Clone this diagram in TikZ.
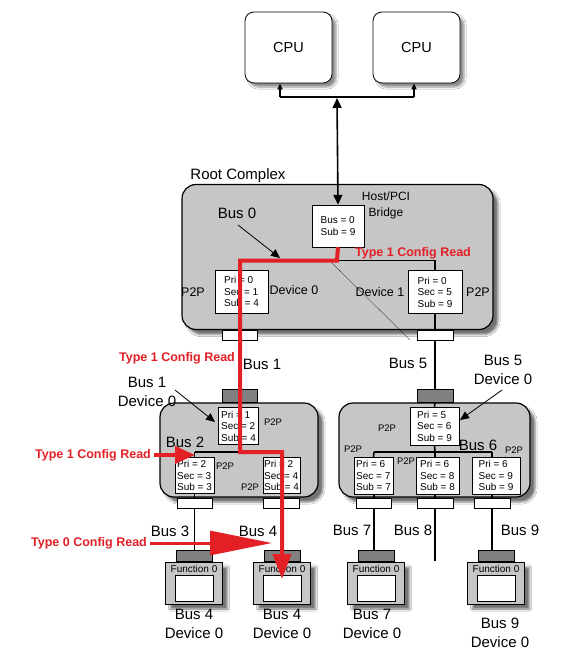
\documentclass[tikz,border=0pt]{standalone}
\usepackage{fontspec}
\setmainfont{Liberation Sans}
\usetikzlibrary{shadows.blur,arrows.meta}
\definecolor{hubgray}{RGB}{198,198,198}
\definecolor{portgray}{RGB}{128,128,128}
\definecolor{cfgred}{RGB}{226,32,38}

\begin{document}
\begin{tikzpicture}[x=1pt,y=-1pt,
    cpubox/.style={draw, thick, fill=white, rounded corners=9pt, inner sep=0pt,
      minimum width=87pt, minimum height=71pt, font=\fontsize{14.5}{16}\selectfont,
      blur shadow={shadow xshift=4pt, shadow yshift=-4pt, shadow opacity=45}},
    hub/.style={draw, line width=1.2pt, fill=hubgray, rounded corners=14pt, inner sep=0pt,
      blur shadow={shadow xshift=5pt, shadow yshift=-5pt, shadow opacity=55}},
    reg/.style={draw, fill=white, inner sep=0pt, align=left, font=\fontsize{10}{11.5}\selectfont},
    upport/.style={draw, fill=portgray, inner sep=0pt, minimum height=13pt},
    dnport/.style={draw, fill=white, inner sep=0pt, minimum height=10pt},
    fnbox/.style={draw, thick, fill=hubgray, inner sep=0pt, minimum width=57pt, minimum height=42pt,
      blur shadow={shadow xshift=5pt, shadow yshift=-5pt, shadow opacity=55}},
    fnport/.style={draw, fill=portgray, inner sep=0pt, minimum width=36pt, minimum height=11pt},
    fnwin/.style={draw, fill=white, inner sep=0pt, minimum width=38pt, minimum height=26pt},
    biglbl/.style={font=\fontsize{15}{19}\selectfont, align=center},
    midlbl/.style={font=\fontsize{12.5}{16}\selectfont, align=center},
    smalllbl/.style={font=\fontsize{9.5}{11}\selectfont},
    redlbl/.style={text=cfgred, font=\bfseries\fontsize{12.5}{14}\selectfont},
    bus/.style={line width=1.6pt},
    redpath/.style={draw=cfgred, line width=4pt, line join=miter}
  ]
  \fill[white] (0,0) rectangle (581,658);
  \useasboundingbox (0,0) rectangle (581,658);

  % CPUs and host bus
  \node (cpuA) [cpubox] at (288.5,47.5) {CPU};
  \node (cpuB) [cpubox] at (416.5,47.5) {CPU};
  \coordinate (hbusL) at (280,97);
  \coordinate (hbusR) at (414,97);
  \coordinate (hbusM) at (337,98);
  \draw[bus] (hbusL) -- (hbusR);
  \draw[bus, -{Triangle[length=6pt,width=5pt]}] (hbusL) -- (hbusL |- cpuA.south);
  \draw[bus, -{Triangle[length=6pt,width=5pt]}] (hbusR) -- (hbusR |- cpuB.south);

  % Root complex
  \node (rootc) [hub, minimum width=311pt, minimum height=145pt] at (337.5,257) {};
  \node[biglbl] at (238,176) {Root Complex};
  \node (hostbr) [reg, minimum width=52pt, minimum height=42pt] at (338,226) {Bus = 0\\Sub = 9};
  \node[midlbl, font=\fontsize{12}{16}\selectfont] at (386,205) {Host/PCI\\Bridge};
  \draw[bus, {Triangle[length=10pt,width=9pt]}-{Triangle[length=10pt,width=9pt]}] (hbusM) -- (hostbr.north);

  \node (rcL) [reg, minimum width=53pt, minimum height=43pt] at (241.5,291.5) {Pri = 0\\Sec = 1\\Sub = 4};
  \node (rcR) [reg, minimum width=54pt, minimum height=43pt] at (435,292) {Pri = 0\\Sec = 5\\Sub = 9};
  \node[midlbl] at (193,292) {P2P};
  \node[midlbl] at (294,290) {Device 0};
  \node[midlbl] at (380,292) {Device 1};
  \node[midlbl] at (478,292) {P2P};
  \node (rcLport) [dnport, minimum width=35pt] at (239.5,335) {};
  \node (rcRport) [dnport, minimum width=36pt] at (435,335) {};

  \coordinate (bus0M) at (337,260.5);
  \coordinate (bus0R) at (435,260.5);
  \draw[bus] (bus0M) -- (bus0R) -- (rcR.north);
  \draw[bus] (rcR.south) -- (rcRport.north);
  \coordinate (thinA) at (330,261);
  \coordinate (thinB) at (410,340);
  \draw[very thin] (thinA) -- (thinB);
  \node[biglbl] at (237,213) {Bus 0};
  \coordinate (bus0from) at (238,225);
  \coordinate (bus0to) at (280,258);
  \draw[thick, -{Triangle[length=9pt,width=8pt]}] (bus0from) -- (bus0to);

  % left switch
  \node (swL) [hub, minimum width=158pt, minimum height=94pt] at (239,450) {};
  \node (swLtop) [upport, minimum width=35pt] at (239.5,395.5) {};
  \node (swLup) [reg, minimum width=40pt, minimum height=37pt] at (238.5,426) {Pri = 1\\Sec = 2\\Sub = 4};
  \node[smalllbl] at (273,422) {P2P};
  \node (swLa) [reg, minimum width=39pt, minimum height=36pt] at (194.5,475.5) {Pri = 2\\Sec = 3\\Sub = 3};
  \node (swLb) [reg, minimum width=37pt, minimum height=36pt] at (281.5,475.5) {Pri = 2\\Sec = 4\\Sub = 4};
  \node[smalllbl] at (225,466) {P2P};
  \node[smalllbl] at (250,487) {P2P};
  \node (swLpa) [dnport, minimum width=35pt] at (194.5,503) {};
  \node (swLpb) [dnport, minimum width=36pt] at (281,503) {};
  \coordinate (bus2L) at (194.5,452);
  \coordinate (bus2M) at (240,452);
  \draw[bus] (rcLport.south) -- (swLtop.north);
  \draw[bus] (bus2L) -- (bus2M);
  \draw[bus] (bus2L) -- (swLa.north);
  \draw[bus] (swLa.south) -- (swLpa.north);
  \draw[bus] (swLb.south) -- (swLpb.north);
  \node[biglbl] at (185,442) {Bus 2};
  \node[biglbl] at (262,364) {Bus 1};
  \node[biglbl] at (147,392) {Bus 1\\Device 0};
  \coordinate (bus1from) at (175,390);
  \coordinate (bus1to) at (215,422);
  \draw[thick, -{Triangle[length=9pt,width=8pt]}] (bus1from) -- (bus1to);

  % right switch
  \node (swR) [hub, minimum width=191pt, minimum height=94pt] at (434.5,450) {};
  \node (swRtop) [upport, minimum width=36pt] at (435,395.5) {};
  \node (swRup) [reg, minimum width=49pt, minimum height=38pt] at (434.5,426) {Pri = 5\\Sec = 6\\Sub = 9};
  \node[smalllbl] at (387,428) {P2P};
  \node (swRc) [reg, minimum width=39pt, minimum height=37pt] at (373.5,475.5) {Pri = 6\\Sec = 7\\Sub = 7};
  \node (swRd) [reg, minimum width=43pt, minimum height=37pt] at (437.5,475.5) {Pri = 6\\Sec = 8\\Sub = 8};
  \node (swRe) [reg, minimum width=48pt, minimum height=37pt] at (496,475.5) {Pri = 6\\Sec = 9\\Sub = 9};
  \node[smalllbl] at (353,449) {P2P};
  \node[smalllbl] at (406,461) {P2P};
  \node[smalllbl] at (514,450) {P2P};
  \node (swRpc) [dnport, minimum width=35pt] at (374,503) {};
  \node (swRpd) [dnport, minimum width=36pt] at (435,503) {};
  \node (swRpe) [dnport, minimum width=36pt] at (492,503) {};
  \coordinate (bus6L) at (374,452);
  \coordinate (bus6R) at (492,452);
  \coordinate (bus6M) at (435,452);
  \draw[bus] (rcRport.south) -- (swRtop.north);
  \draw[bus] (swRtop.south) -- (swRup.north);
  \draw[bus] (swRup.south) -- (bus6M);
  \draw[bus] (bus6L) -- (bus6R);
  \draw[bus] (bus6L) -- (swRc.north);
  \draw[bus] (bus6M) -- (bus6M |- swRd.north);
  \draw[bus] (bus6R) -- (bus6R |- swRe.north);
  \draw[bus] (swRpc.north |- swRc.south) -- (swRpc.north);
  \draw[bus] (swRpd.north |- swRd.south) -- (swRpd.north);
  \draw[bus] (swRpe.north |- swRe.south) -- (swRpe.north);
  \node[biglbl] at (408,363) {Bus 5};
  \node[biglbl] at (503,370) {Bus 5\\Device 0};
  \node[biglbl] at (478,445) {Bus 6};
  \coordinate (bus5from) at (502,390);
  \coordinate (bus5to) at (460,420);
  \draw[thick, -{Triangle[length=9pt,width=8pt]}] (bus5from) -- (bus5to);

  % endpoint devices
  \node (devA) [fnbox] at (194,583) {};
  \node (devAport) [fnport] at (194,556) {};
  \node (devAwin) [fnwin] at (194,588) {};
  \node[font=\fontsize{10}{11}\selectfont] at (194,569) {Function 0};
  \node (devB) [fnbox] at (282,583) {};
  \node (devBport) [fnport] at (282,556) {};
  \node (devBwin) [fnwin] at (282,588) {};
  \node[font=\fontsize{10}{11}\selectfont] at (282,569) {Function 0};
  \node (devC) [fnbox] at (376,583) {};
  \node (devCport) [fnport] at (376,556) {};
  \node (devCwin) [fnwin] at (376,588) {};
  \node[font=\fontsize{10}{11}\selectfont] at (376,569) {Function 0};
  \node (devD) [fnbox] at (496,583) {};
  \node (devDport) [fnport] at (496,556) {};
  \node (devDwin) [fnwin] at (496,588) {};
  \node[font=\fontsize{10}{11}\selectfont] at (496,569) {Function 0};

  \draw[bus] (swLpa.south) -- (swLpa.south |- devAport.north);
  \draw[bus] (swRpc.south) -- (swRpc.south |- devCport.north);
  \coordinate (bus8end) at (435,561);
  \draw[bus] (swRpd.south) -- (bus8end);
  \draw[bus] (swRpe.south) -- (swRpe.south |- devDport.north);

  \node[biglbl] at (170,531) {Bus 3};
  \node[biglbl] at (258,531) {Bus 4};
  \node[biglbl] at (352,530) {Bus 7};
  \node[biglbl] at (413,530) {Bus 8};
  \node[biglbl] at (520,530) {Bus 9};
  \node[biglbl] at (194,624) {Bus 4\\Device 0};
  \node[biglbl] at (282,624) {Bus 4\\Device 0};
  \node[biglbl] at (372,624) {Bus 7\\Device 0};
  \node[biglbl] at (500,633) {Bus 9\\Device 0};

  % config read path
  \coordinate (rp1) at (337,260.5);
  \coordinate (rp2) at (240,260.5);
  \coordinate (rp3) at (240,452);
  \coordinate (rp4) at (282,452);
  \coordinate (rp5) at (282,579);
  \draw[redpath, -{Triangle[length=25pt,width=18pt]}] (hostbr.south) -- (rp1) -- (rp2) -- (rp3) -- (rp4) -- (rp5);
  \node[redlbl] at (413,253) {Type 1 Config Read};
  \node[redlbl] at (177,358) {Type 1 Config Read};
  \node (t1lbl) [redlbl] at (93,455) {Type 1 Config Read};
  \coordinate (t1to) at (195,455);
  \draw[cfgred, line width=4pt, -{Triangle[length=20pt,width=17pt]}] (t1lbl.east) -- (t1to);
  \node (t0lbl) [redlbl] at (89,543) {Type 0 Config Read};
  \coordinate (t0to) at (272,543);
  \draw[cfgred, line width=3pt, -{Triangle[length=62pt,width=24pt]}] (t0lbl.east) -- (t0to);
\end{tikzpicture}
\end{document}
